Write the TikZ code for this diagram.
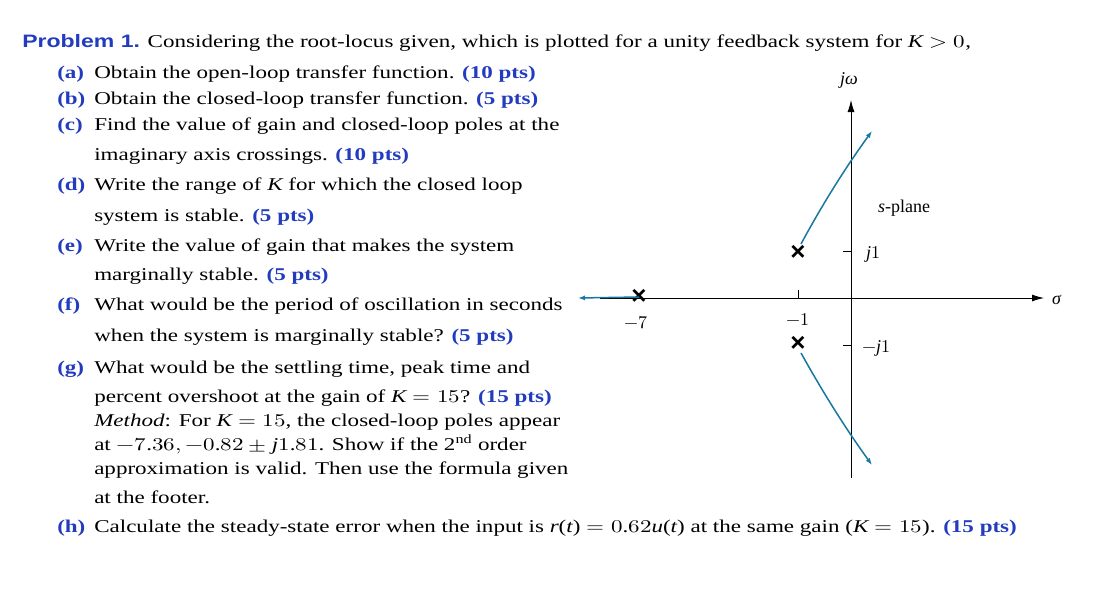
\documentclass[tikz,border=0pt]{standalone}
\usepackage{fontspec}
\setmainfont{Liberation Serif}
\newfontfamily\hsans{Liberation Sans}
\usepackage{amsmath}
\usepackage{unicode-math}
\setmathfont{Latin Modern Math}
\setmathfont[range=it/{latin,Latin,greek}]{Liberation Serif Italic}
\setmathfont[range={"0030-"0039,"002E,"0028,"0029}]{Liberation Serif}
\usetikzlibrary{arrows.meta}
\definecolor{qblue}{RGB}{35,60,190}
\definecolor{locus}{RGB}{25,120,160}
\begin{document}
\begin{tikzpicture}[x=1pt,y=-1pt,
  tx/.style={anchor=base west,inner sep=0pt,font=\fontsize{18}{20}\selectfont,xscale=1.28,transform shape},
  lbl/.style={tx,text=qblue,font=\fontsize{18}{20}\selectfont\bfseries},
  ptx/.style={anchor=base west,inner sep=0pt,font=\fontsize{18}{20}\selectfont},
  pole/.style={font=\fontsize{26}{26}\selectfont\hsans\bfseries,inner sep=0pt},
  loc/.style={locus,line width=1.5pt,-{Latex[length=7pt,width=5pt]}},
  ax/.style={line width=0.9pt,-{Latex[length=12pt,width=7pt]}}]
\useasboundingbox (0,0) rectangle (1114,597);
\newcommand{\pts}[1]{\textcolor{qblue}{\textbf{(#1 pts)}}}
\node[tx] (t0) at (22,47) {\textcolor{qblue}{\hsans\bfseries Problem 1.} Considering the root-locus given, which is plotted for a unity feedback system for $K>0$,};
\node[lbl] (la) at (57,78) {(a)}; \node[tx] (ta) at (94,78) {Obtain the open-loop transfer function. \pts{10}};
\node[lbl] (lb) at (57,104) {(b)}; \node[tx] (tb) at (94,104) {Obtain the closed-loop transfer function. \pts{5}};
\node[lbl] (lc) at (57,130) {(c)}; \node[tx] (tc) at (94,130) {Find the value of gain and closed-loop poles at the};
\node[tx] (tc2) at (94,160) {imaginary axis crossings. \pts{10}};
\node[lbl] (ld) at (57,190) {(d)}; \node[tx] (td) at (94,190) {Write the range of $K$ for which the closed loop};
\node[tx] (td2) at (94,221) {system is stable. \pts{5}};
\node[lbl] (le) at (57,251) {(e)}; \node[tx] (te) at (94,251) {Write the value of gain that makes the system};
\node[tx] (te2) at (94,280) {marginally stable. \pts{5}};
\node[lbl] (lf) at (57,310) {(f)}; \node[tx] (tf) at (94,310) {What would be the period of oscillation in seconds};
\node[tx] (tf2) at (94,341) {when the system is marginally stable? \pts{5}};
\node[lbl] (lg) at (57,373) {(g)}; \node[tx] (tg) at (94,373) {What would be the settling time, peak time and};
\node[tx] (tg2) at (94,402) {percent overshoot at the gain of $K=15$? \pts{15}};
\node[tx] (tg3) at (94,426) {\textit{Method}: For $K=15$, the closed-loop poles appear};
\node[tx] (tg4) at (94,450) {at $-7.36, -0.82\pm j1.81$. Show if the 2\textsuperscript{nd} order};
\node[tx] (tg5) at (94,474) {approximation is valid. Then use the formula given};
\node[tx] (tg6) at (94,503) {at the footer.};
\node[lbl] (lh) at (57,532) {(h)}; \node[tx] (th) at (94,532) {Calculate the steady-state error when the input is $r(t)=0.62u(t)$ at the same gain ($K=15$). \pts{15}};
% plot
\coordinate (O) at (851,298);
\coordinate (xl) at (600,298); \coordinate (xr) at (1044,298);
\coordinate (yb) at (851,478); \coordinate (yt) at (851,100);
\draw[ax] (xl) -- (xr);
\draw[ax] (yb) -- (yt);
\node[ptx] (sig) at (1052,304) {$\sigma$};
\node[ptx] (jw) at (840,84) {$j\omega$};
\draw[line width=0.8pt] (843,251) -- (851,251) (843,345) -- (851,345) (798,290) -- (798,298);
\node[ptx] (j1) at (866,258) {$j1$};
\node[ptx] (mj1) at (862,352) {$-j1$};
\node[ptx] (m7) at (624,328) {$-7$};
\node[ptx] (m1) at (786,325) {$-1$};
\node[ptx] (sp) at (878,212) {$s$-plane};
\node[pole] (p7) at (639,297) {×};
\node[pole] (pu) at (798,253) {×};
\node[pole] (pd) at (798,344) {×};
\coordinate (eu) at (872,131); \coordinate (ed) at (872,465); \coordinate (el) at (578,298);
\draw[loc] (p7.center) -- (el);
\draw[loc] (pu.center) ++(3,-9) .. controls (815,218) and (838,178) .. (eu);
\draw[loc] (pd.center) ++(3,9) .. controls (815,378) and (838,418) .. (ed);
\end{tikzpicture}
\end{document}
